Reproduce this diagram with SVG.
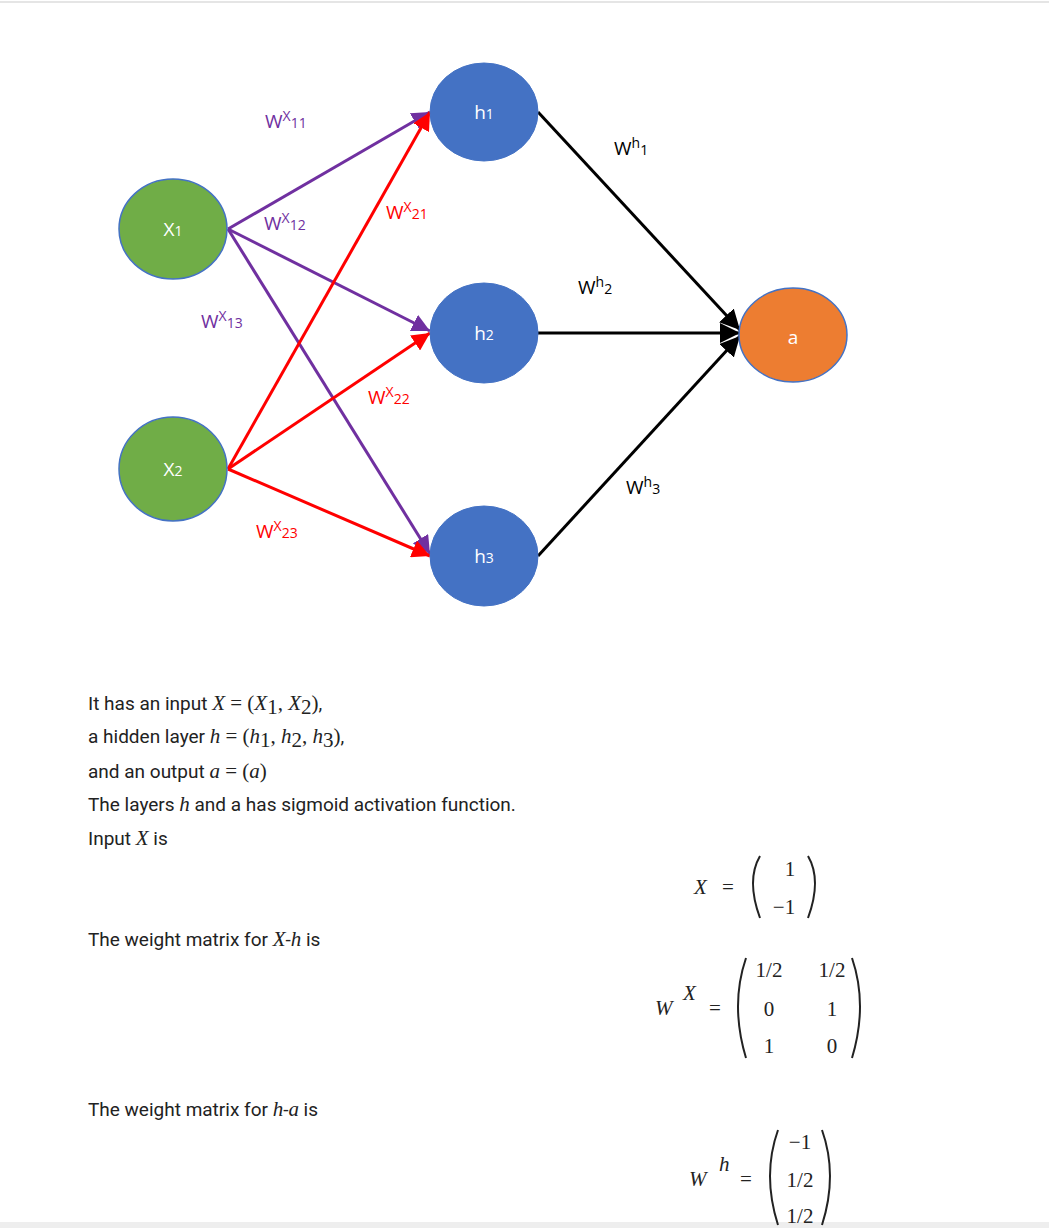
<svg xmlns="http://www.w3.org/2000/svg" width="1049" height="1228" viewBox="0 0 1049 1228">
<defs>
<style>
.in{fill:#70ad47;stroke:#4472c4;stroke-width:1.5}
.hid{fill:#4472c4;stroke:#4472c4}
.out{fill:#ed7d31;stroke:#4472c4;stroke-width:1.5}
.nl{font-family:"Open Sans","Liberation Sans",sans-serif;font-size:19px;fill:#fff;text-anchor:middle}
.wl{font-family:"Open Sans","Liberation Sans",sans-serif;font-size:19px}
.sub{font-size:14px}
.p{stroke:#7030a0;stroke-width:3;fill:none}
.r{stroke:#ff0000;stroke-width:3;fill:none}
.k{stroke:#000;stroke-width:3;fill:none}
.t{font-family:Roboto,"Liberation Sans",sans-serif;font-size:19px;fill:#222}
.m{font-family:"Liberation Serif",serif;font-size:21px;fill:#222}
.mi{font-family:"Liberation Serif",serif;font-size:21px;font-style:italic;fill:#222}
.br{stroke:#222;stroke-width:2;fill:none}
</style>
<marker id="ap" viewBox="0 0 10 10" refX="9" refY="5" markerWidth="6" markerHeight="6" orient="auto" markerUnits="userSpaceOnUse" style="overflow:visible"><path d="M0,0L10,5L0,10z" fill="#7030a0" transform="scale(1.8) translate(-4,-2.2)"/></marker>
<marker id="ar" viewBox="0 0 10 10" refX="10" refY="5" markerWidth="18" markerHeight="18" orient="auto" markerUnits="userSpaceOnUse"><path d="M0,0L10,5L0,10z" fill="#ff0000"/></marker>
<marker id="ap2" viewBox="0 0 10 10" refX="10" refY="5" markerWidth="18" markerHeight="18" orient="auto" markerUnits="userSpaceOnUse"><path d="M0,0L10,5L0,10z" fill="#7030a0"/></marker>
<marker id="ak" viewBox="0 0 10 10" refX="10" refY="5" markerWidth="20" markerHeight="20" orient="auto" markerUnits="userSpaceOnUse"><path d="M0,0L10,5L0,10z" fill="#000"/></marker>
</defs>
<rect width="1049" height="1228" fill="#fff"/>
<line x1="0" y1="2" x2="1049" y2="2" stroke="#ddd" stroke-width="1.5"/>
<rect x="0" y="1222" width="1049" height="6" fill="#eee"/>
<g id="connectors">
<line class="p" x1="228" y1="229" x2="430" y2="112" marker-end="url(#ap2)"/>
<line class="p" x1="228" y1="229" x2="430" y2="331" marker-end="url(#ap2)"/>
<line class="p" x1="228" y1="229" x2="430" y2="554" marker-end="url(#ap2)"/>
<line class="r" x1="228" y1="469" x2="430" y2="112" marker-end="url(#ar)"/>
<line class="r" x1="228" y1="469" x2="430" y2="333" marker-end="url(#ar)"/>
<line class="r" x1="228" y1="469" x2="430" y2="556" marker-end="url(#ar)"/>
<line class="k" x1="538" y1="112" x2="740" y2="330" marker-end="url(#ak)"/>
<line class="k" x1="538" y1="333" x2="740" y2="333" marker-end="url(#ak)"/>
<line class="k" x1="538" y1="556" x2="740" y2="336" marker-end="url(#ak)"/>
</g>
<g id="labels" class="wl">
<text x="265" y="128" fill="#7030a0">W<tspan class="sub" dy="-7">X</tspan><tspan class="sub" dy="7">11</tspan></text>
<text x="264" y="230" fill="#7030a0">W<tspan class="sub" dy="-7">X</tspan><tspan class="sub" dy="7">12</tspan></text>
<text x="201" y="328" fill="#7030a0">W<tspan class="sub" dy="-7">X</tspan><tspan class="sub" dy="7">13</tspan></text>
<text x="386" y="219" fill="#ff0000">W<tspan class="sub" dy="-7">X</tspan><tspan class="sub" dy="7">21</tspan></text>
<text x="368" y="404" fill="#ff0000">W<tspan class="sub" dy="-7">X</tspan><tspan class="sub" dy="7">22</tspan></text>
<text x="256" y="538" fill="#ff0000">W<tspan class="sub" dy="-7">X</tspan><tspan class="sub" dy="7">23</tspan></text>
<text x="614" y="155" fill="#000">W<tspan class="sub" dy="-7">h</tspan><tspan class="sub" dy="7">1</tspan></text>
<text x="578" y="294" fill="#000">W<tspan class="sub" dy="-7">h</tspan><tspan class="sub" dy="7">2</tspan></text>
<text x="626" y="494" fill="#000">W<tspan class="sub" dy="-7">h</tspan><tspan class="sub" dy="7">3</tspan></text>
</g>
<g id="x1"><ellipse class="in" cx="173" cy="229" rx="54" ry="50"/><text class="nl" x="173" y="236">X<tspan class="sub">1</tspan></text></g>
<g id="x2"><ellipse class="in" cx="173" cy="469" rx="54" ry="52"/><text class="nl" x="173" y="476">X<tspan class="sub">2</tspan></text></g>
<g id="h1"><ellipse class="hid" cx="484" cy="112" rx="54" ry="49"/><text class="nl" x="484" y="119">h<tspan class="sub">1</tspan></text></g>
<g id="h2"><ellipse class="hid" cx="484" cy="333" rx="54" ry="50"/><text class="nl" x="484" y="340">h<tspan class="sub">2</tspan></text></g>
<g id="h3"><ellipse class="hid" cx="484" cy="556" rx="54" ry="50"/><text class="nl" x="484" y="563">h<tspan class="sub">3</tspan></text></g>
<g id="a"><ellipse class="out" cx="793" cy="335" rx="54" ry="47"/><text class="nl" x="793" y="344" font-size="24">a</text></g>
<g id="text">
<text class="t" x="88" y="710">It has an input <tspan class="mi">X</tspan><tspan class="m"> = (</tspan><tspan class="mi">X</tspan><tspan class="m" font-size="15" dy="4">1</tspan><tspan class="m" dy="-4">, </tspan><tspan class="mi">X</tspan><tspan class="m" font-size="15" dy="4">2</tspan><tspan class="m" dy="-4">)</tspan>,</text>
<text class="t" x="88" y="743">a hidden layer <tspan class="mi">h</tspan><tspan class="m"> = (</tspan><tspan class="mi">h</tspan><tspan class="m" font-size="15" dy="4">1</tspan><tspan class="m" dy="-4">, </tspan><tspan class="mi">h</tspan><tspan class="m" font-size="15" dy="4">2</tspan><tspan class="m" dy="-4">, </tspan><tspan class="mi">h</tspan><tspan class="m" font-size="15" dy="4">3</tspan><tspan class="m" dy="-4">)</tspan>,</text>
<text class="t" x="88" y="778">and an output <tspan class="mi">a</tspan><tspan class="m"> = (</tspan><tspan class="mi">a</tspan><tspan class="m">)</tspan></text>
<text class="t" x="88" y="811">The layers <tspan class="mi">h</tspan> and a has sigmoid activation function.</text>
<text class="t" x="88" y="845">Input <tspan class="mi">X</tspan> is</text>
<text class="t" x="88" y="946">The weight matrix for <tspan class="mi">X</tspan>-<tspan class="mi">h</tspan> is</text>
<text class="t" x="88" y="1116">The weight matrix for <tspan class="mi">h</tspan>-<tspan class="mi">a</tspan> is</text>
</g>
<g id="matX">
<text class="mi" x="694" y="894">X</text><text class="m" x="722" y="894">=</text>
<path class="br" d="M760,856 Q746,880 760,918"/>
<path class="br" d="M808,856 Q822,880 808,918"/>
<text class="m" x="790" y="876" text-anchor="middle">1</text>
<text class="m" x="784" y="914" text-anchor="middle">−1</text>
</g>
<g id="matWX">
<text class="mi" x="655" y="1015">W</text><text class="mi" x="683" y="1000" font-size="16">X</text><text class="m" x="709" y="1015">=</text>
<path class="br" d="M746,958 Q730,1005 746,1058"/>
<path class="br" d="M852,958 Q868,1005 852,1058"/>
<text class="m" x="769" y="977" text-anchor="middle">1/2</text>
<text class="m" x="832" y="977" text-anchor="middle">1/2</text>
<text class="m" x="769" y="1016" text-anchor="middle">0</text>
<text class="m" x="832" y="1016" text-anchor="middle">1</text>
<text class="m" x="769" y="1053" text-anchor="middle">1</text>
<text class="m" x="832" y="1053" text-anchor="middle">0</text>
</g>
<g id="matWh">
<text class="mi" x="689" y="1186">W</text><text class="mi" x="719" y="1171" font-size="16">h</text><text class="m" x="740" y="1186">=</text>
<path class="br" d="M778,1130 Q762,1175 778,1225"/>
<path class="br" d="M822,1130 Q838,1175 822,1225"/>
<text class="m" x="800" y="1149" text-anchor="middle">−1</text>
<text class="m" x="800" y="1187" text-anchor="middle">1/2</text>
<text class="m" x="800" y="1223" text-anchor="middle">1/2</text>
</g>
</svg>
